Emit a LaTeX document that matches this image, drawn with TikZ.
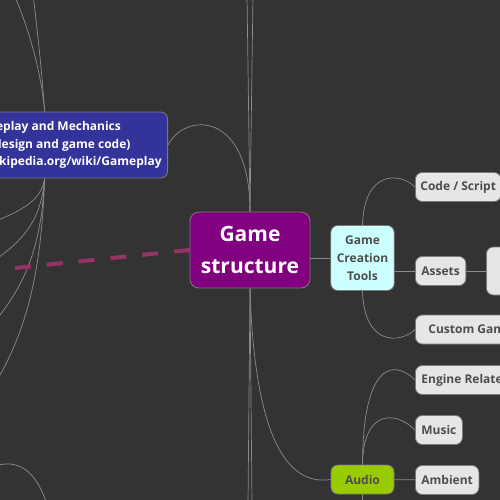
\documentclass[tikz,border=0pt]{standalone}
\usepackage{fontspec}
\setmainfont{Open Sans}
\usepackage{xcolor}
\definecolor{mbg}{HTML}{333333}
\definecolor{mline}{HTML}{8C8C8C}
\definecolor{mborder}{HTML}{7A7A7A}
\definecolor{mtext}{HTML}{4D4D4D}
\definecolor{mpurple}{HTML}{800080}
\definecolor{mblue}{HTML}{333399}
\definecolor{mcyan}{HTML}{CCFFFF}
\definecolor{mgreen}{HTML}{99CC00}
\definecolor{mleaf}{HTML}{E6E6E6}
\definecolor{mrel}{HTML}{993366}
\usetikzlibrary{backgrounds}

\begin{document}
\begin{tikzpicture}[x=1pt,y=-1pt,
  topic/.style={draw=mborder,line width=0.8pt,rounded corners=7pt,text=mtext,align=center,
    font=\bfseries\fontsize{12}{18}\selectfont,inner xsep=6pt,inner ysep=0pt},
  leaf/.style={topic,fill=mleaf,minimum height=29pt,anchor=west},
  link/.style={mline,line width=0.7pt},
  rel/.style={mrel,line width=4pt,dash pattern=on 16pt off 16pt}]
\useasboundingbox (0,0) rectangle (500,500);
% main topics
\node[topic,fill=mpurple,text=white,font=\bfseries\fontsize{21}{32}\selectfont,
  minimum width=120pt,minimum height=76pt,rounded corners=9pt] (game) at (250,250) {Game\\structure};
\node[topic,fill=mblue,text=white,font=\bfseries\fontsize{12}{17.5}\selectfont,
  anchor=east,minimum height=66pt] (play) at (168,145)
  {Gameplay and Mechanics\\(level design and game code)\\http://en.wikipedia.org/wiki/Gameplay};
\node[topic,fill=mcyan,minimum width=63pt,minimum height=65pt] (tools) at (362.5,258) {Game\\Creation\\Tools};
\node[topic,fill=mgreen,minimum width=63pt,minimum height=29pt] (audio) at (362.5,479.5) {Audio};
% leaves
\node[leaf,inner xsep=5pt] (code) at (415,187) {Code / Script};
\node[leaf] (assets) at (415,271) {Assets};
\node[leaf,minimum width=60pt,minimum height=48pt] (assetsub) at (486,271) {};
\node[leaf,inner xsep=13pt] (custom) at (415,329.5) {Custom Game};
\node[leaf] (engine) at (415,380) {Engine Related};
\node[leaf] (music) at (415,430) {Music};
\node[leaf] (ambient) at (415,480) {Ambient};
% free ends (children outside the picture)
\coordinate (up1) at (247,-5);
\coordinate (up2) at (253,-5);
\coordinate (dn1) at (248,505);
\coordinate (dn2) at (252,505);
\coordinate (codeup) at (520,160);
\coordinate (codedn) at (520,214);
\coordinate (audiodn) at (362.5,510);
\coordinate (topA) at (10,-15);
\coordinate (topB) at (32,-15);
\coordinate (fanA) at (-30,230);
\coordinate (fanB) at (-30,275);
\coordinate (fanC) at (-30,348);
\coordinate (fanD) at (-30,420);
\coordinate (lowA) at (-15,470);
\coordinate (lowB) at (50,515);
\coordinate (relstart) at (15,268);
\begin{scope}[on background layer]
  \fill[mbg] (0,0) rectangle (500,500);
  % central topic
  \draw[link] (game.north) .. controls (250,110) and (185,112) .. (play.east);
  \draw[link] (game.north) -- (up1);
  \draw[link] (game.north) -- (up2);
  \draw[link] (game.south) -- (dn1);
  \draw[link] (game.south) -- (dn2);
  \draw[link] (game.south) .. controls (255,455) and (295,485) .. (audio.west);
  \draw[link] (game.east |- tools.west) -- (tools.west);
  % game creation tools
  \draw[link] (tools.north) .. controls (364,170) and (400,172) .. (code.west);
  \draw[link] (tools.east |- assets.west) -- (assets.west);
  \draw[link] (tools.south) .. controls (364,346) and (400,344) .. (custom.west);
  \draw[link] (assets) -- (assetsub);
  \draw[link] (code.east) .. controls (499,175) and (501,167) .. (codeup);
  \draw[link] (code.east) .. controls (499,199) and (501,207) .. (codedn);
  % audio
  \draw[link] (audio.north) .. controls (363,360) and (395,360) .. (engine.west);
  \draw[link] (audio.north) .. controls (363,410) and (395,410) .. (music.west);
  \draw[link] (audio) -- (ambient);
  \draw[link] (audio.south) -- (audiodn);
  % gameplay
  \draw[link] (play.north) .. controls (41,70) and (28,25) .. (topA);
  \draw[link] (play.north) .. controls (41,60) and (36,20) .. (topB);
  \draw[link] (play.south) .. controls (41,200) and (25,212) .. (fanA);
  \draw[link] (play.south) .. controls (41,220) and (25,245) .. (fanB);
  \draw[link] (play.south) .. controls (41,250) and (25,295) .. (fanC);
  \draw[link] (play.south) .. controls (41,280) and (25,350) .. (fanD);
  \draw[link] (lowA) .. controls (5,460) and (35,455) .. (lowB);
  % relationship
  \draw[rel] (relstart) -- (game.west);
\end{scope}
\end{tikzpicture}
\end{document}
